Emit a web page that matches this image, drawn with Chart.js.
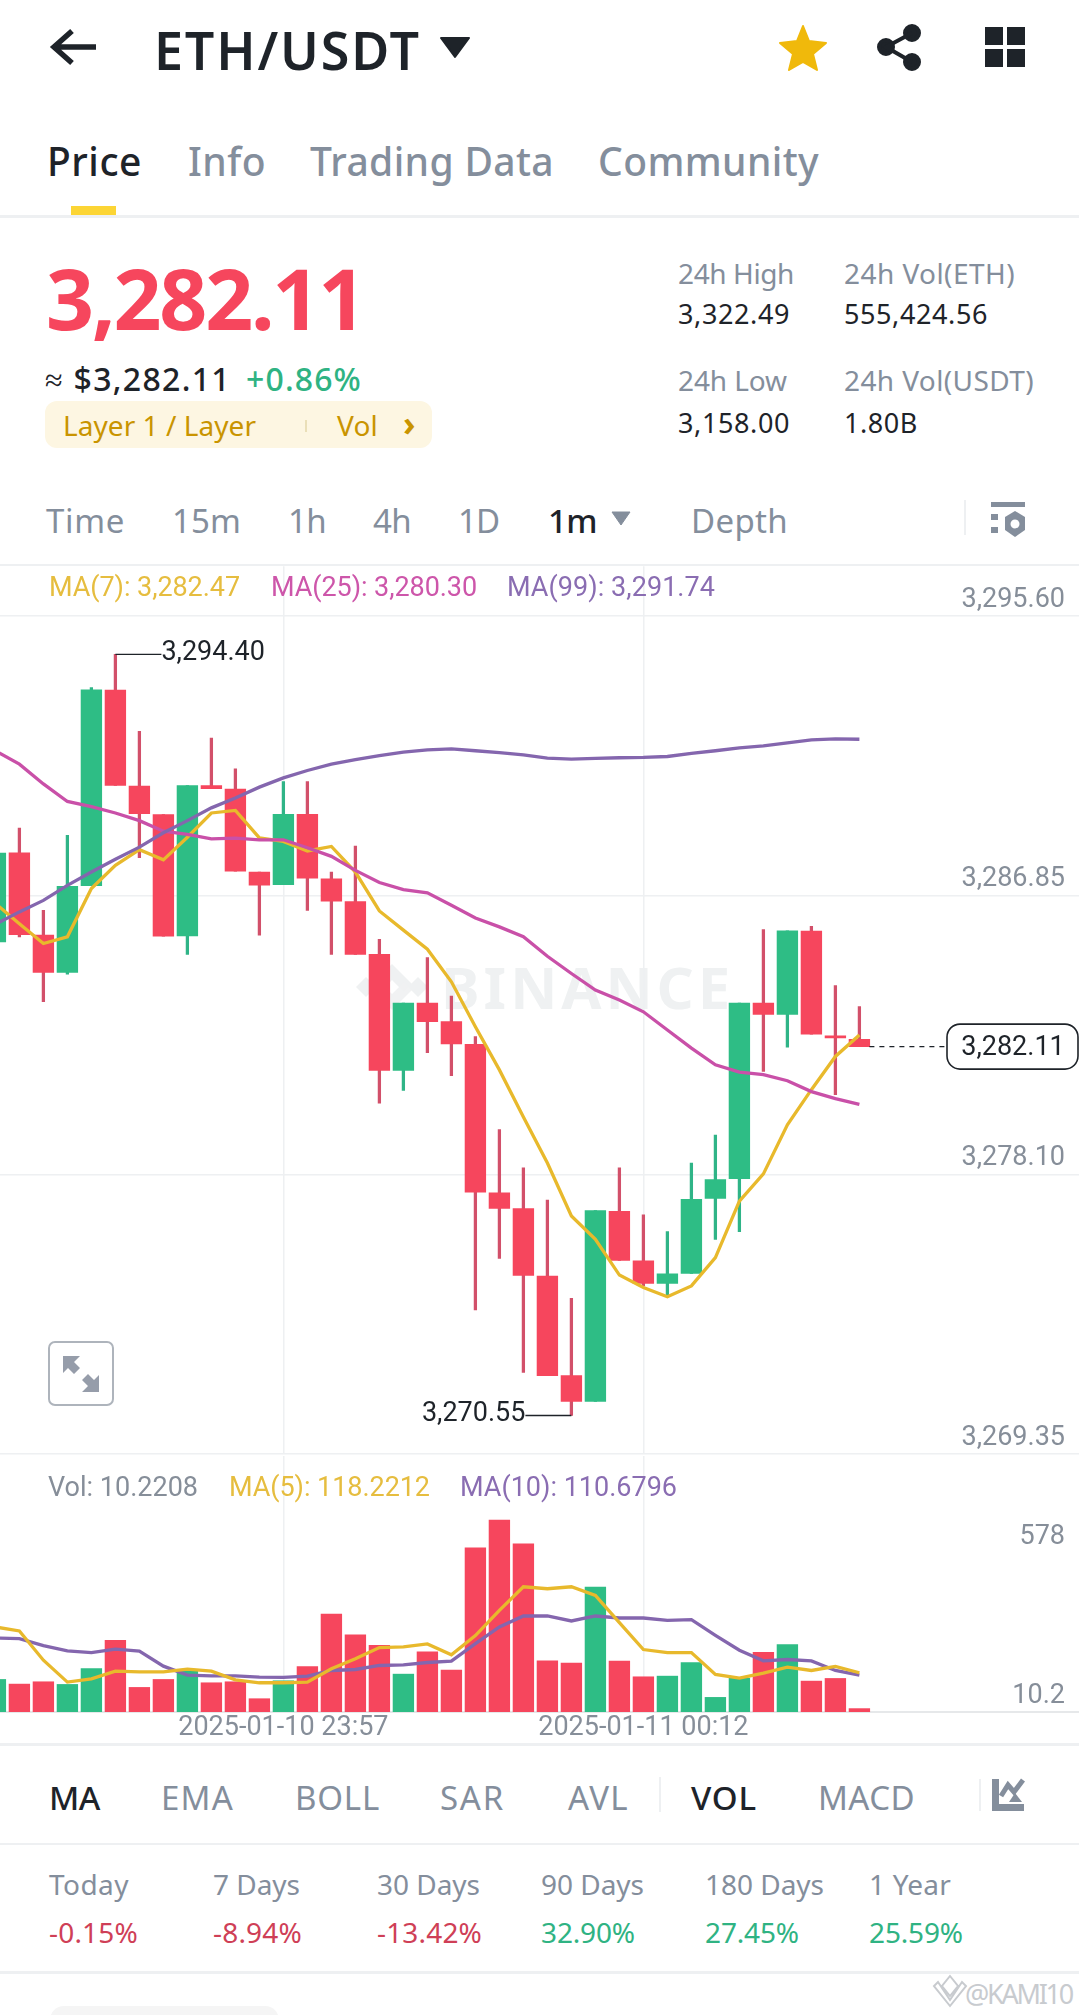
<!DOCTYPE html>
<html>
<head>
<meta charset="utf-8">
<title>ETH/USDT</title>
<script src="https://cdn.jsdelivr.net/npm/chart.js@4"></script>
<style>
  html,body{margin:0;padding:0;background:#fff;}
  #page{position:relative;width:1079px;height:2015px;overflow:hidden;background:#fff;font-family:"Noto Sans",sans-serif;}
  .t{position:absolute;white-space:nowrap;line-height:1;transform:translateY(-50%);}
  .hr{position:absolute;left:0;width:1079px;background:#eef0f2;}
  .box{position:absolute;}
  svg{position:absolute;overflow:visible;}
  canvas{position:absolute;left:0;display:block;}
</style>
</head>
<body>
<div id="page">
  <div class="hr" style="top:215px;height:3px"></div>
  <div class="box" style="left:71px;top:206px;width:45px;height:9px;background:#fcd535"></div>
  <div class="box" style="left:45px;top:401px;width:387px;height:47px;border-radius:12px;background:#fdf6e2"></div>
  <div class="box" style="left:305px;top:420px;width:2px;height:12px;background:#eadfb8"></div>
  <div class="box" style="left:964px;top:500px;width:2px;height:35px;background:#eef0f2"></div>
  <div class="hr" style="top:564px;height:2px"></div>
  <div class="hr" style="top:1743px;height:3px"></div>
  <div class="box" style="left:659px;top:1777px;width:2px;height:35px;background:#eef0f2"></div>
  <div class="box" style="left:979px;top:1779px;width:2px;height:32px;background:#eef0f2"></div>
  <div class="hr" style="top:1843px;height:2px"></div>
  <div class="hr" style="top:1971px;height:3px"></div>
  <div class="box" style="left:50px;top:2006px;width:229px;height:20px;border-radius:14px 14px 0 0;background:#f5f5f5"></div>

  <!-- header icons -->
  <svg style="left:0;top:0" width="1079" height="560">
    <path d="M96 47H56M72 31L54 47L72 63" fill="none" stroke="#1e2329" stroke-width="5.5"/>
    <path d="M441 38H469L455 57Z" fill="#1e2329" stroke="#1e2329" stroke-width="2" stroke-linejoin="round"/>
    <path d="M803 26L809 41L826 43L813 54L817 70L803 62L789 70L793 54L780 43L797 41Z" fill="#f0b90b" stroke="#f0b90b" stroke-width="2" stroke-linejoin="round"/>
    <g fill="#1e2329" stroke="#1e2329" stroke-width="4">
      <circle cx="912" cy="33" r="7"/><circle cx="886" cy="47" r="7"/><circle cx="912" cy="62" r="7"/>
      <path d="M912 33L886 47L912 62" fill="none"/>
    </g>
    <g fill="#1e2329">
      <rect x="985" y="27" width="18" height="18"/><rect x="1007" y="27" width="18" height="18"/>
      <rect x="985" y="49" width="18" height="18"/><rect x="1007" y="49" width="18" height="18"/>
    </g>
    <path d="M612 512H630L621 525Z" fill="#848e9c" stroke="#848e9c" stroke-linejoin="round"/>
    <g fill="#848e9c">
      <rect x="991" y="502" width="34" height="5"/>
      <rect x="991" y="514" width="7" height="6"/><rect x="991" y="527" width="7" height="6"/>
      <path d="M1015 511L1025 517V530L1015 537L1005 530V517Z"/>
    </g>
    <circle cx="1015" cy="524" r="4.5" fill="#fff"/>
  </svg>

  <!-- watermark under the candles -->
  <svg style="left:0;top:0" width="1079" height="1100">
    <g fill="#eff1f2">
      <path d="M392 964L412 984L404 992L392 980L380 992L372 984Z"/>
      <path d="M392 1010L372 990L380 982L392 994L404 982L412 990Z" opacity=".9"/>
      <path d="M356 987L366 977L376 987L366 997Z"/><path d="M408 987L418 977L428 987L418 997Z"/>
    </g>
  </svg>
  <span class="t" style='left:441px;top:986px;font:700 58px "Noto Sans";color:#eff1f2;letter-spacing:4px'>BINANCE</span>

  <canvas id="priceChart" width="1079" height="892" style="top:564px"></canvas>
  <canvas id="volChart" width="1079" height="288" style="top:1456px"></canvas>

  <!-- expand button -->
  <svg style="left:48px;top:1341px" width="66" height="65">
    <rect x="1" y="1" width="64" height="63" rx="6" fill="#fff" stroke="#aeb4bc" stroke-width="2"/>
    <path d="M15 15H32L26 21L32 27L26 33L20 27L15 32Z" fill="#969daa"/>
    <path d="M51 51H34L40 45L34 39L40 33L46 39L51 34Z" fill="#969daa"/>
  </svg>

  <!-- bottom icon + footer watermark -->
  <svg style="left:0;top:1760px" width="1079" height="255">
    <path d="M992 19H999V44H1024V51H992Z" fill="#848e9c"/>
    <path d="M1001 36L1008 25L1014 32L1023 20" fill="none" stroke="#848e9c" stroke-width="5"/>
    <path d="M1009 42L1015 33L1022 42Z" fill="#848e9c"/>
    <path d="M950 216L958 226L950 236L942 226ZM950 246L934 226L938 222L950 240L962 222L966 226Z" fill="none" stroke="#c8cbcf" stroke-width="2"/>
  </svg>
  <div id="ui"></div>
</div>

<script>
  // one entry per candle, left to right (first one is cut by the left edge)
  const opens = [
    3285.39, 3288.18, 3285.60, 3284.43, 3287.15, 3293.28, 3290.27, 3289.38, 3285.58, 3290.29,
    3290.18, 3287.58, 3287.18, 3289.39, 3287.37, 3286.65, 3285.00, 3281.36, 3283.47, 3282.89,
    3282.18, 3277.53, 3277.03, 3274.92, 3271.80, 3270.99, 3276.95, 3275.40, 3274.69, 3275.00,
    3277.35, 3277.97, 3283.47, 3283.12, 3285.73, 3282.45, 3282.34
  ];
  const closes = [
    3288.17, 3285.62, 3284.43, 3287.13, 3293.29, 3290.29, 3289.41, 3285.57, 3290.29, 3290.19,
    3287.61, 3287.17, 3289.39, 3287.39, 3286.67, 3285.00, 3281.36, 3283.47, 3282.89, 3282.19,
    3277.55, 3277.04, 3274.94, 3271.80, 3270.99, 3276.97, 3275.41, 3274.69, 3274.99, 3277.32,
    3277.94, 3283.47, 3283.12, 3285.74, 3282.50, 3282.38, 3282.11
  ];
  const highs = [
    3288.17, 3288.96, 3286.38, 3288.73, 3293.36, 3294.40, 3291.99, 3289.38, 3290.29, 3291.78,
    3290.81, 3287.58, 3290.41, 3290.41, 3287.58, 3288.39, 3285.47, 3283.47, 3284.90, 3283.69,
    3282.42, 3279.51, 3278.31, 3277.30, 3274.22, 3276.97, 3278.31, 3276.84, 3276.31, 3278.46,
    3279.34, 3283.47, 3285.78, 3285.74, 3285.88, 3284.02, 3283.36
  ];
  const lows = [
    3285.39, 3285.55, 3283.52, 3284.38, 3287.15, 3290.29, 3288.03, 3285.57, 3285.00, 3290.19,
    3287.61, 3285.60, 3287.18, 3286.38, 3285.00, 3285.00, 3280.34, 3280.74, 3281.92, 3281.20,
    3273.86, 3275.47, 3271.90, 3271.80, 3270.55, 3270.99, 3275.41, 3274.61, 3274.27, 3275.00,
    3276.07, 3276.31, 3281.33, 3282.09, 3282.50, 3280.60, 3282.11
  ];
  const ma7 = [
    3286.59, 3285.96, 3285.34, 3285.55, 3287.06, 3287.79, 3288.28, 3287.96, 3288.67, 3289.43,
    3289.51, 3288.65, 3288.54, 3288.24, 3288.38, 3287.58, 3286.36, 3285.76, 3285.16, 3284.14,
    3282.73, 3281.38, 3279.90, 3278.46, 3276.80, 3276.07, 3274.95, 3274.56, 3274.27, 3274.61,
    3275.50, 3277.27, 3278.12, 3279.66, 3280.76, 3281.80, 3282.47
  ];
  const ma25 = [
    3291.38, 3290.96, 3290.34, 3289.79, 3289.63, 3289.43, 3289.19, 3288.86, 3288.76, 3288.62,
    3288.64, 3288.59, 3288.59, 3288.34, 3288.07, 3287.63, 3287.25, 3287.03, 3286.93, 3286.54,
    3286.14, 3285.86, 3285.55, 3284.94, 3284.40, 3283.88, 3283.57, 3283.20, 3282.63, 3282.06,
    3281.54, 3281.31, 3281.23, 3281.04, 3280.70, 3280.48, 3280.30
  ];
  const ma99 = [
    3285.94, 3286.33, 3286.69, 3287.16, 3287.58, 3287.98, 3288.36, 3288.81, 3289.19, 3289.59,
    3289.90, 3290.24, 3290.53, 3290.76, 3290.96, 3291.10, 3291.23, 3291.34, 3291.41, 3291.44,
    3291.38, 3291.32, 3291.25, 3291.15, 3291.12, 3291.14, 3291.16, 3291.17, 3291.20, 3291.30,
    3291.38, 3291.47, 3291.53, 3291.63, 3291.72, 3291.75, 3291.74
  ];
  const volumes = [
    98, 84, 91, 83, 131, 216, 74, 98, 123, 88,
    91, 40, 94, 137, 295, 232, 201, 114, 181, 126,
    494, 578, 506, 154, 147, 376, 153, 106, 108, 149,
    44, 102, 180, 203, 93, 101, 10.22
  ];
  const volMa5 = [
    256, 244, 156, 90, 100, 123, 121, 121, 129, 123,
    97, 88, 88, 90, 130, 160, 194, 196, 205, 172,
    230, 306, 377, 371, 377, 351, 269, 188, 179, 179,
    113, 102, 117, 135, 125, 137, 118.22
  ];
  const volMa10 = [
    223, 221, 200, 184, 179, 189, 183, 138, 111, 109,
    109, 105, 104, 108, 125, 128, 140, 142, 149, 153,
    206, 256, 289, 289, 274, 289, 283, 283, 276, 278,
    231, 186, 154, 158, 154, 125, 110.68
  ];
  const priceTicks = [3295.60, 3286.85, 3278.10, 3269.35];
  const volTicks = [578, 10.2];
  const timeTicks = [12, 27];
  const timeLabels = ["2025-01-10 23:57", "2025-01-11 00:12"];
  const highMark = { index: 5, value: 3294.40, label: "3,294.40" };
  const lowMark = { index: 24, value: 3270.55, label: "3,270.55" };
  const lastPrice = { index: 36, value: 3282.11, label: "3,282.11" };

  const RED = "#f6465d";
  const GREEN = "#2ebd85";
  const WICK_RED = "#d2506a";
  const WICK_GREEN = "#2fb487";
  const YELLOW = "#e8b92c";
  const MAGENTA = "#c950a8";
  const PURPLE = "#8466ae";
  const GREY = "#868e99";
  const GRID = "#eef0f2";
  const DARK = "#1e2329";
  const AXIS_FONT = { family: "Roboto", size: 27 };

  const isUp = (i) => closes[i] >= opens[i];
  const pts = (arr) => arr.map((y, i) => ({ x: i, y }));
  const maLine = (arr, color, width) => ({
    type: "line", data: pts(arr), borderColor: color, borderWidth: width,
    pointRadius: 0, tension: 0, order: 0
  });

  // x axis: candle index, 24px per candle over the full canvas width
  const xMin = 0.192;
  const xMax = 45.15;

  const markers = {
    id: "markers",
    afterDatasetsDraw(chart){
      const { ctx, scales: { x, y } } = chart;
      ctx.save();
      ctx.font = "27px Roboto";
      ctx.strokeStyle = DARK;
      ctx.fillStyle = DARK;
      ctx.textBaseline = "middle";
      ctx.lineWidth = 1.3;

      const hx = x.getPixelForValue(highMark.index);
      const hy = y.getPixelForValue(highMark.value);
      ctx.beginPath(); ctx.moveTo(hx, hy); ctx.lineTo(hx + 46, hy); ctx.stroke();
      ctx.textAlign = "left";
      ctx.fillText(highMark.label, hx + 46, hy - 1);

      const lx = x.getPixelForValue(lowMark.index);
      const ly = y.getPixelForValue(lowMark.value);
      ctx.beginPath(); ctx.moveTo(lx, ly); ctx.lineTo(lx - 46, ly); ctx.stroke();
      ctx.textAlign = "right";
      ctx.fillText(lowMark.label, lx - 46, ly - 1);

      const px = x.getPixelForValue(lastPrice.index);
      const py = y.getPixelForValue(lastPrice.value);
      ctx.setLineDash([5, 5]);
      ctx.beginPath(); ctx.moveTo(px + 10, py); ctx.lineTo(947, py); ctx.stroke();
      ctx.setLineDash([]);
      ctx.fillStyle = "#fff";
      ctx.lineWidth = 1.6;
      ctx.beginPath(); ctx.roundRect(947, py - 22.5, 131, 45, 13); ctx.fill(); ctx.stroke();
      ctx.fillStyle = DARK;
      ctx.textAlign = "center";
      ctx.fillText(lastPrice.label, 1013, py + 2);
      ctx.restore();
    }
  };

  // the two volume labels sit inside the range, so they get their own offsets
  const volLabels = {
    id: "volLabels",
    afterDraw(chart){
      const { ctx, scales: { y } } = chart;
      ctx.save();
      ctx.font = "27px Roboto";
      ctx.fillStyle = GREY;
      ctx.textAlign = "right";
      ctx.textBaseline = "middle";
      ctx.fillText(String(volTicks[0]), 1065, y.getPixelForValue(volTicks[0]) + 17);
      ctx.fillText(String(volTicks[1]), 1065, y.getPixelForValue(volTicks[1]) - 12);
      ctx.restore();
    }
  };

  new Chart(document.getElementById("priceChart"), {
    type: "bar",
    data: {
      datasets: [
        maLine(ma99, PURPLE, 3.3),
        maLine(ma25, MAGENTA, 3.3),
        maLine(ma7, YELLOW, 3.3),
        {
          data: opens.map((o, i) => ({ x: i, y: [o, closes[i]] })),
          backgroundColor: opens.map((o, i) => isUp(i) ? GREEN : RED),
          barThickness: 20.7, grouped: false, order: 1
        },
        {
          data: opens.map((o, i) => ({ x: i, y: [lows[i], highs[i]] })),
          backgroundColor: opens.map((o, i) => isUp(i) ? WICK_GREEN : WICK_RED),
          barThickness: 2.6, grouped: false, order: 2
        }
      ]
    },
    options: {
      responsive: false,
      animation: false,
      events: [],
      layout: { padding: { bottom: 2 } },
      plugins: { legend: { display: false }, tooltip: { enabled: false } },
      scales: {
        x: {
          type: "linear", min: xMin, max: xMax, offset: false,
          afterBuildTicks: (axis) => { axis.ticks = timeTicks.map((value) => ({ value })); },
          ticks: { display: false },
          grid: { color: GRID, lineWidth: 1.5, drawTicks: false, offset: false },
          border: { display: false }
        },
        y: {
          position: "right", min: 3269.35, max: 3297.1625,
          afterBuildTicks: (axis) => { axis.ticks = priceTicks.map((value) => ({ value })); },
          ticks: {
            mirror: true, padding: -14, labelOffset: -16, color: GREY, font: AXIS_FONT,
            callback: (v) => v.toLocaleString("en-US", { minimumFractionDigits: 2 })
          },
          grid: { color: GRID, lineWidth: 1.5, drawTicks: false },
          border: { display: false }
        }
      }
    },
    plugins: [markers]
  });

  new Chart(document.getElementById("volChart"), {
    type: "bar",
    data: {
      datasets: [
        maLine(volMa5, YELLOW, 3.3),
        maLine(volMa10, PURPLE, 3.3),
        {
          data: pts(volumes),
          backgroundColor: volumes.map((v, i) => isUp(i) ? GREEN : RED),
          barThickness: 20.7, grouped: false, order: 1
        }
      ]
    },
    options: {
      responsive: false,
      animation: false,
      events: [],
      plugins: { legend: { display: false }, tooltip: { enabled: false } },
      scales: {
        x: {
          type: "linear", min: xMin, max: xMax, offset: false,
          afterBuildTicks: (axis) => { axis.ticks = timeTicks.map((value) => ({ value })); },
          afterFit: (axis) => { axis.height = 32; },
          ticks: {
            padding: 0, maxRotation: 0, autoSkip: false, color: GREY, font: AXIS_FONT,
            callback: (v) => timeLabels[timeTicks.indexOf(v)]
          },
          grid: { color: GRID, lineWidth: 1.5, drawTicks: false, offset: false },
          border: { display: true, color: "#e6e8ea", width: 2 }
        },
        y: {
          position: "right", min: 0, max: 770.7,
          afterBuildTicks: (axis) => { axis.ticks = volTicks.map((value) => ({ value })); },
          afterFit: (axis) => { axis.width = 0; },
          ticks: { display: false },
          grid: { display: false, drawTicks: false },
          border: { display: false }
        }
      }
    },
    plugins: [volLabels]
  });

  // page text around the chart: text, left, right, centre y, size, weight, colour, font
  const N = "Noto Sans", R = "Roboto", INK = "#1e2329", G = "#848e9c";
  const GOLD = "#c99400", DOWN = "#cf3f57", UP = "#2fb383";
  const uiTexts = [
    ["ETH/USDT", 154, 421, 49, 52, 600, INK, N],
    ["Price", 47, 142, 160, 39, 500, INK, N],
    ["Info", 188, 266, 160, 39, 500, G, N],
    ["Trading Data", 310, 554, 160, 39, 500, G, N],
    ["Community", 598, 819, 160, 39, 500, G, N],
    ["3,282.11", 46, 364, 297, 84, 700, RED, N],
    ["≈ $3,282.11", 45, 231, 378, 32, 500, INK, N],
    ["+0.86%", 246, 362, 378, 32, 500, UP, N],
    ["Layer 1 / Layer", 63, 256, 425, 28, 400, GOLD, N],
    ["Vol", 337, 378, 425, 28, 400, GOLD, N],
    ["›", 403, 416, 423, 34, 700, GOLD, N],
    ["24h High", 678, 794, 273, 28, 400, G, N],
    ["3,322.49", 678, 790, 313, 27, 400, INK, N],
    ["24h Vol(ETH)", 844, 1015, 273, 28, 400, G, N],
    ["555,424.56", 844, 988, 313, 27, 400, INK, N],
    ["24h Low", 678, 787, 380, 28, 400, G, N],
    ["3,158.00", 678, 790, 422, 27, 400, INK, N],
    ["24h Vol(USDT)", 844, 1034, 380, 28, 400, G, N],
    ["1.80B", 844, 918, 422, 27, 400, INK, N],
    ["Time", 46, 125, 520, 33, 400, G, N],
    ["15m", 172, 241, 520, 33, 400, G, N],
    ["1h", 288, 326, 520, 33, 400, G, N],
    ["4h", 373, 411, 520, 33, 400, G, N],
    ["1D", 458, 499, 520, 33, 400, G, N],
    ["1m", 548, 597, 520, 33, 500, INK, N],
    ["Depth", 691, 788, 520, 33, 400, G, N],
    ["MA(7): 3,282.47", 49, 240, 587, 27, 400, "#e6bd3f", R],
    ["MA(25): 3,280.30", 271, 477, 587, 27, 400, "#cd56aa", R],
    ["MA(99): 3,291.74", 507, 715, 587, 27, 400, "#8a6db2", R],
    ["Vol: 10.2208", 48, 198, 1487, 27, 400, GREY, R],
    ["MA(5): 118.2212", 229, 430, 1487, 27, 400, "#e6bd3f", R],
    ["MA(10): 110.6796", 460, 677, 1487, 27, 400, "#8a6db2", R],
    ["MA", 49, 100, 1797, 33, 500, INK, N],
    ["EMA", 161, 234, 1797, 33, 400, G, N],
    ["BOLL", 295, 380, 1797, 33, 400, G, N],
    ["SAR", 440, 505, 1797, 33, 400, G, N],
    ["AVL", 568, 629, 1797, 33, 400, G, N],
    ["VOL", 691, 757, 1797, 33, 500, INK, N],
    ["MACD", 818, 915, 1797, 33, 400, G, N],
    ["Today", 49, 129, 1884, 28, 400, G, N],
    ["7 Days", 213, 300, 1884, 28, 400, G, N],
    ["30 Days", 377, 480, 1884, 28, 400, G, N],
    ["90 Days", 541, 644, 1884, 28, 400, G, N],
    ["180 Days", 705, 824, 1884, 28, 400, G, N],
    ["1 Year", 869, 951, 1884, 28, 400, G, N],
    ["-0.15%", 49, 138, 1932, 28, 400, DOWN, N],
    ["-8.94%", 213, 302, 1932, 28, 400, DOWN, N],
    ["-13.42%", 377, 482, 1932, 28, 400, DOWN, N],
    ["32.90%", 541, 635, 1932, 28, 400, UP, N],
    ["27.45%", 705, 799, 1932, 28, 400, UP, N],
    ["25.59%", 869, 963, 1932, 28, 400, UP, N],
    ["@KAMI10", 965, 1072, 1993, 27, 400, "#c8cbcf", N]
  ];

  const ui = document.getElementById("ui");
  for(const [text, x0, x1, y, size, weight, color, font] of uiTexts){
    const s = document.createElement("span");
    s.className = "t";
    s.textContent = text;
    s.style.cssText = `left:${x0}px;top:${y}px;font:${weight} ${size}px "${font}";color:${color}`;
    ui.appendChild(s);
    // squeeze or stretch a little so the run ends where it does in the picture
    const extra = (x1 - x0) - s.getBoundingClientRect().width;
    s.style.letterSpacing = `${extra / text.length}px`;
  }
</script>
</body>
</html>
